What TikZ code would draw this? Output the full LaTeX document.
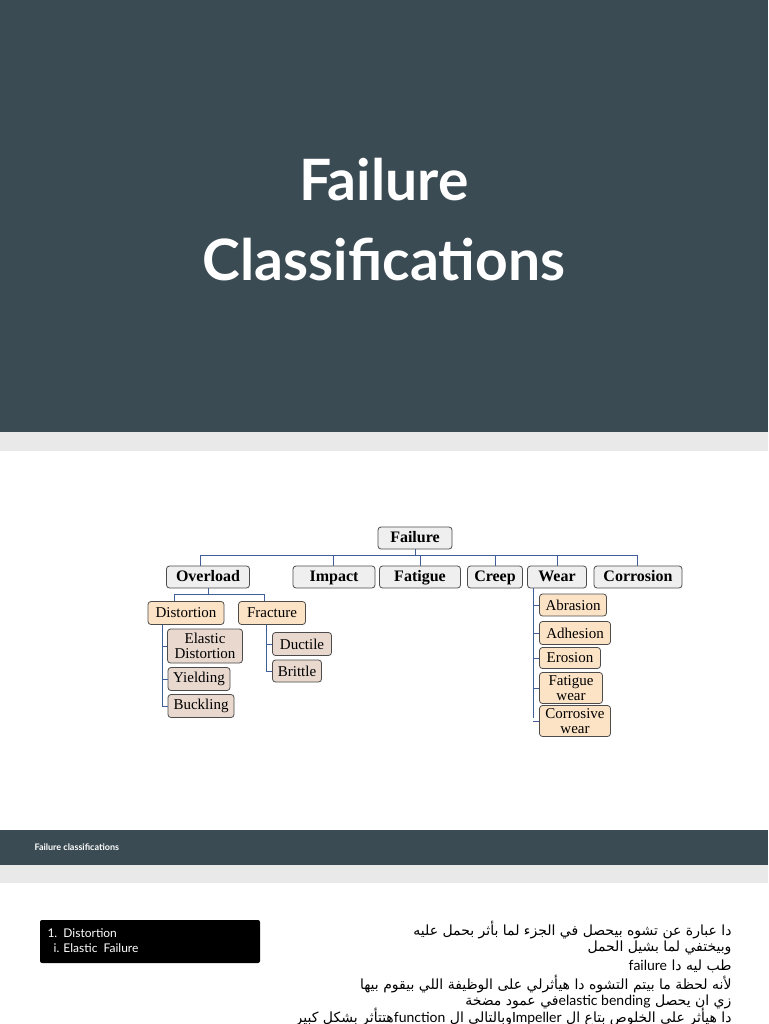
\documentclass[tikz,border=0pt]{standalone}
\usepackage{fontspec}
\setmainfont{Liberation Serif}
\newfontfamily\lato{Lato}
\newfontfamily\arabicfont[Script=Arabic]{DejaVu Sans}
\TeXXeTstate=1
\definecolor{dark}{HTML}{3B4B53}
\definecolor{gapc}{HTML}{E9E9E9}
\definecolor{linec}{HTML}{3F5E9A}
\definecolor{grayf}{HTML}{EFEFEF}
\definecolor{orgf}{HTML}{FCE3C6}
\definecolor{brnf}{HTML}{E8D8CE}
\begin{document}
\begin{tikzpicture}[x=1pt,y=-1pt,
  box/.style={draw=black!70,rounded corners=3pt,line width=0.8pt,inner sep=0pt,align=center},
  top/.style={box,fill=grayf,font=\fontsize{16}{16}\selectfont\bfseries,minimum height=22pt,text height=11pt,text depth=3pt},
  org/.style={box,fill=orgf,font=\fontsize{15}{15}\selectfont,minimum height=23pt},
  brn/.style={box,fill=brnf,font=\fontsize{15}{15}\selectfont,minimum height=23pt},
  conn/.style={draw=linec,line width=1pt},
  ar/.style={anchor=east,font=\arabicfont\fontsize{14}{14}\selectfont}]
\useasboundingbox (0,0) rectangle (768,1024);
\fill[gapc] (0,0) rectangle (768,1024);
\fill[dark] (0,0) rectangle (768,432);
\fill[white] (0,451) rectangle (768,830);
\fill[dark] (0,830) rectangle (768,865);
\fill[white] (0,883) rectangle (768,1024);
\node[text=white,font=\lato\bfseries\fontsize{57}{80}\selectfont,align=center] (title) at (384,220) {Failure\\Classifications};
\node[text=white,font=\lato\bfseries\fontsize{9}{10}\selectfont,anchor=west] (foot) at (31,847) {Failure classifications};
% tree
\node[top,minimum width=74pt] (fail) at (415,538) {Failure};
\node[top,minimum width=83pt] (over) at (208,577) {Overload};
\node[top,minimum width=82pt] (imp) at (334,577) {Impact};
\node[top,minimum width=81pt] (fat) at (420,577) {Fatigue};
\node[top,minimum width=55pt] (creep) at (495,577) {Creep};
\node[top,minimum width=59pt] (wear) at (557,577) {Wear};
\node[top,minimum width=88pt] (corr) at (638,577) {Corrosion};
\node[org,minimum width=76pt] (dist) at (186,613) {Distortion};
\node[org,minimum width=67pt] (frac) at (272,613) {Fracture};
\node[brn,minimum width=75pt,minimum height=34pt,font=\fontsize{15}{15}\selectfont] (elas) at (205,646) {Elastic\\Distortion};
\node[brn,minimum width=62pt] (yield) at (199,679) {Yielding};
\node[brn,minimum width=66pt] (buck) at (201,706) {Buckling};
\node[brn,minimum width=59pt] (duct) at (302,644) {Ductile};
\node[brn,minimum width=49pt,minimum height=22pt] (brit) at (297,671) {Brittle};
\node[org,minimum width=67pt,minimum height=22pt] (abr) at (573,605) {Abrasion};
\node[org,minimum width=71pt] (adh) at (575,633) {Adhesion};
\node[org,minimum width=61pt,minimum height=21pt] (ero) at (570,658) {Erosion};
\node[org,minimum width=63pt,minimum height=31pt,font=\fontsize{15}{15}\selectfont] (fw) at (571,688) {Fatigue\\wear};
\node[org,minimum width=71pt,minimum height=31pt,font=\fontsize{15}{15}\selectfont] (cw) at (575,721) {Corrosive\\wear};
% connectors
\coordinate (b1) at (200,555);
\coordinate (b2) at (637,555);
\draw[conn] (fail.south) -- (fail.south |- b1);
\draw[conn] (b1) -- (b2);
\foreach \n/\x in {over/200,imp/333,fat/420,creep/495,wear/557,corr/637}
  \draw[conn] (\x,555) -- (\x,566);
\draw[conn] (over.south) -- (208,594);
\draw[conn] (174,594) -- (264,594);
\draw[conn] (174,594) -- (dist.north -| 174,0);
\draw[conn] (264,594) -- (frac.north -| 264,0);
\draw[conn] (162,625) -- (162,706);
\foreach \n in {elas,yield,buck} \draw[conn] (162,0 |- \n.west) -- (\n.west);
\draw[conn] (266,625) -- (266,671);
\foreach \n in {duct,brit} \draw[conn] (266,0 |- \n.west) -- (\n.west);
\draw[conn] (533,588) -- (533,718);
\foreach \n in {abr,adh,ero,fw,cw} \draw[conn] (533,0 |- \n.west) -- (\n.west);
% bottom slide
\node[fill=black,rounded corners=2pt,minimum width=220pt,minimum height=43pt] (blk) at (150,941.5) {};
\node[text=white,font=\fontsize{12}{15}\selectfont\lato,anchor=north west,align=left] (blkt) at (44,925) {1.~~Distortion\\\ \ i. Elastic~ Failure};
\node[ar] (l1) at (735,930) {\beginR دا عبارة عن تشوه بيحصل في الجزء لما بأثر بحمل عليه\endR};
\node[ar] (l2) at (735,948) {\beginR وبيختفي لما بشيل الحمل\endR};
\node[ar] (l3) at (735,966) {\beginR طب ليه دا \beginL{\lato failure}\endL{}\endR};
\node[ar] (l4) at (735,984) {\beginR لأنه لحظة ما بيتم التشوه دا هيأثرلي على الوظيفة اللي بيقوم بيها\endR};
\node[ar] (l5) at (735,1002) {\beginR زي ان يحصل \beginL{\lato elastic bending}\endL{}في عمود مضخة\endR};
\node[ar] (l6) at (735,1017) {\beginR دا هيأثر على الخلوص بتاع ال \beginL{\lato Impeller}\endL{}وبالتالي ال \beginL{\lato function}\endL{}هتتأثر بشكل كبير\endR};
\end{tikzpicture}
\end{document}
